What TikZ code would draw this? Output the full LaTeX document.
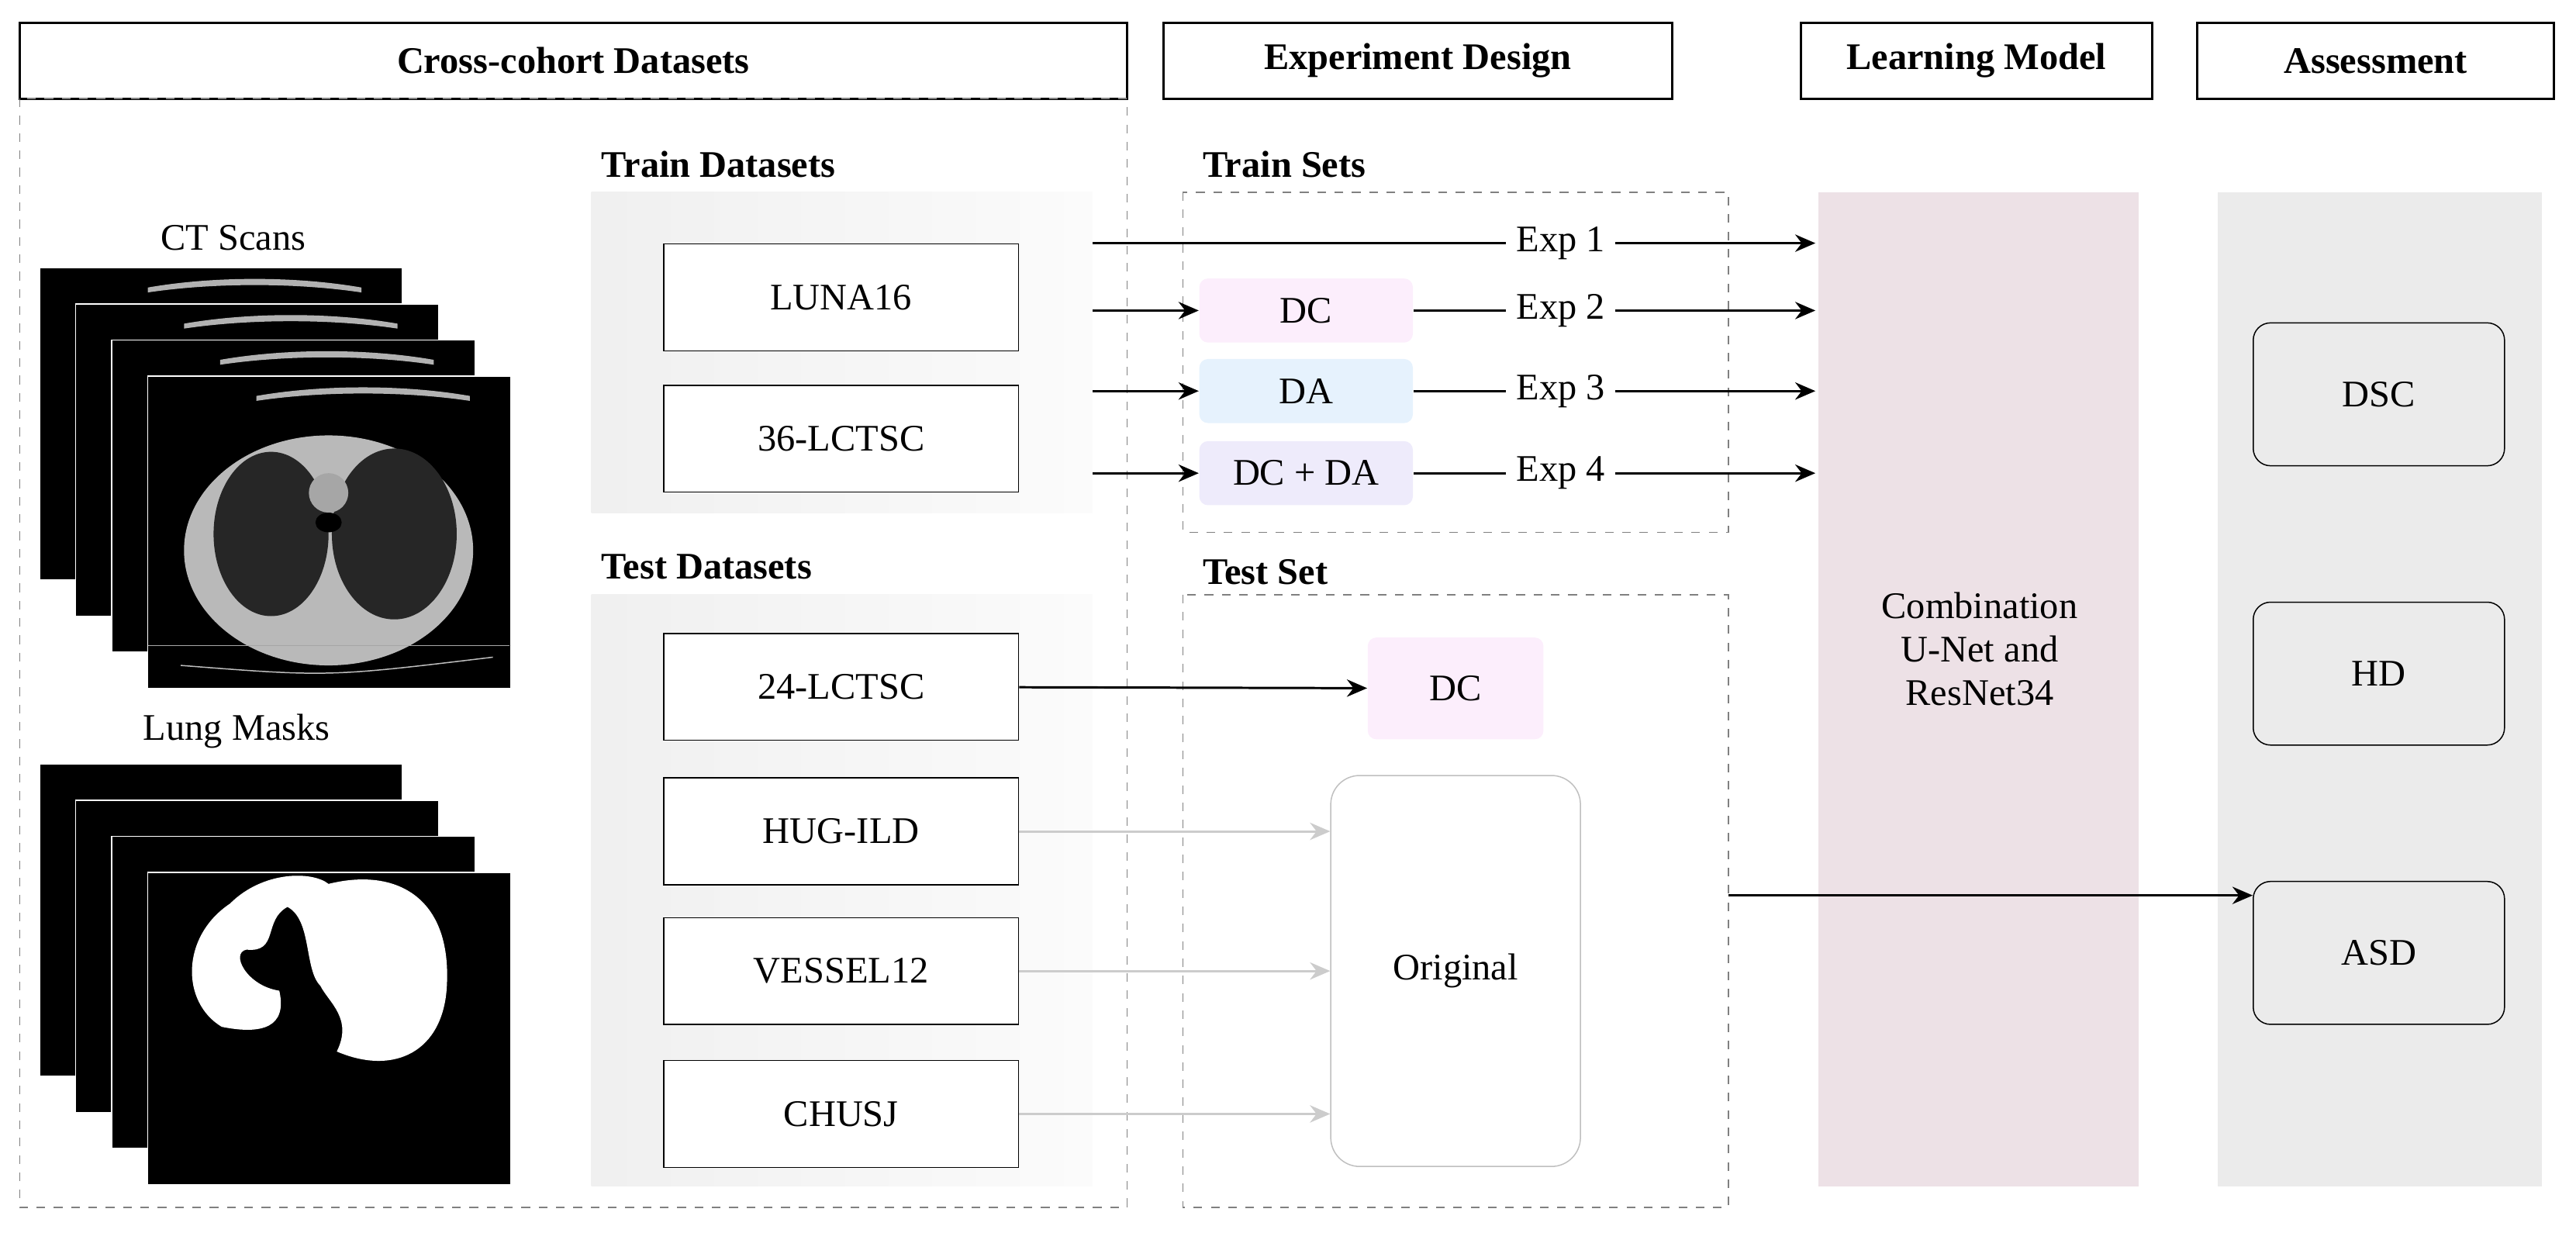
\documentclass[tikz,border=0pt]{standalone}
\usepackage{fontspec}
\setmainfont{Liberation Serif}
\usetikzlibrary{arrows.meta}

\definecolor{pinkbox}{HTML}{FCEEFC}
\definecolor{bluebox}{HTML}{E6F2FD}
\definecolor{lavbox}{HTML}{EEEBFB}
\definecolor{modelcol}{HTML}{EDE1E6}
\definecolor{assesscol}{HTML}{EBEBEB}

\tikzset{
  every node/.style={font=\fontsize{13}{15}\selectfont},
  header/.style={draw, thick, minimum height=0.92cm, font=\fontsize{13}{15}\selectfont\bfseries},
  title/.style={anchor=west, font=\fontsize{13}{15}\selectfont\bfseries},
  dsbox/.style={draw, minimum width=4.32cm, minimum height=1.3cm},
  setbox/.style={rounded corners=3pt, minimum width=2.6cm, minimum height=0.78cm},
  metric/.style={draw, rounded corners=6pt, minimum width=3.06cm, minimum height=1.74cm},
  dashbox/.style={draw=gray, dashed},
  arr/.style={-{Stealth[length=7pt,width=6pt]}, thick},
  garr/.style={-{Stealth[length=7pt,width=6pt]}, thick, gray!40},
  slice/.style={fill=black, draw=white, line width=0.4pt},
}

\begin{document}
\begin{tikzpicture}[x=0.02cm, y=-0.02cm]
\useasboundingbox (0,0) rectangle (1568,750.4);

% headers
\node[header, minimum width=13.48cm] (h1) at (349,37) {Cross-cohort Datasets};
\node[header, minimum width=6.2cm] (h2) at (863,37) {Experiment Design};
\node[header, minimum width=4.28cm] (h3) at (1203,37) {Learning Model};
\node[header, minimum width=4.34cm] (h4) at (1446,37) {Assessment};

% dashed frames
\draw[dashbox] (12,60) rectangle (686,735);
\draw[dashbox] (720,117) rectangle (1052,324);
\draw[dashbox] (720,362) rectangle (1052,735);

% columns
\fill[modelcol] (1107,117) rectangle (1302,722);
\fill[assesscol] (1350,117) rectangle (1547,722);
\node[align=center] (model) at (1205,395) {Combination\\U-Net and\\ResNet34};

% CT scans
\node (ctl) at (142,145) {CT Scans};
\foreach \i in {0,1,2,3}{
  \fill[slice] (24+22*\i,163+22*\i) rectangle (245+22*\i,353+22*\i);
  \fill[gray!60] (90+22*\i,175+22*\i) .. controls (130+22*\i,168+22*\i) and (180+22*\i,168+22*\i) .. (220+22*\i,175+22*\i)
     -- (220+22*\i,178+22*\i) .. controls (180+22*\i,172+22*\i) and (130+22*\i,172+22*\i) .. (90+22*\i,178+22*\i) -- cycle;
}
% front slice body
\fill[gray!55] (200,335) ellipse (88 and 70);
\fill[black!85] (165,325) ellipse (35 and 50);
\fill[black!85] (240,325) ellipse (38 and 52);
\fill[gray!70] (200,300) circle (12);
\fill[black] (200,318) ellipse (8 and 6);
\draw[gray!70, thin] (90,393) -- (310,393);
\draw[gray!50, thin] (110,405) .. controls (200,412) .. (300,400);

% lung masks
\node (lml) at (144,445) {Lung Masks};
\foreach \i in {0,1,2,3}{
  \fill[slice] (24+22*\i,465+22*\i) rectangle (245+22*\i,655+22*\i);
}
\fill[white] (135,625) .. controls (110,610) and (110,570) .. (140,550)
  .. controls (160,530) and (190,530) .. (200,538)
  .. controls (240,528) and (275,545) .. (272,600)
  .. controls (270,640) and (240,655) .. (205,640)
  .. controls (215,620) and (200,610) .. (195,600)
  .. controls (185,590) and (190,560) .. (175,552)
  .. controls (160,560) and (170,580) .. (150,578)
  .. controls (140,580) and (150,600) .. (170,603)
  .. controls (175,625) and (160,630) .. (135,625) -- cycle;

% train datasets
\node[title] (trl) at (360,100) {Train Datasets};
\shade[left color=gray!12, right color=gray!3] (360,117) rectangle (665,312);
\node[dsbox, fill=white] (luna) at (512,181) {LUNA16};
\node[dsbox, fill=white] (lctsc36) at (512,267) {36-LCTSC};

% test datasets
\node[title] (tel) at (360,345) {Test Datasets};
\shade[left color=gray!12, right color=gray!3] (360,362) rectangle (665,722);
\node[dsbox, fill=white] (lctsc24) at (512,418) {24-LCTSC};
\node[dsbox, fill=white] (hug) at (512,506) {HUG-ILD};
\node[dsbox, fill=white] (vessel) at (512,591) {VESSEL12};
\node[dsbox, fill=white] (chusj) at (512,678) {CHUSJ};

% train sets
\node[title] (tsl) at (726,100) {Train Sets};
\node[setbox, fill=pinkbox] (dc) at (795,189) {DC};
\node[setbox, fill=bluebox] (da) at (795,238) {DA};
\node[setbox, fill=lavbox] (dcda) at (795,288) {DC + DA};
\node (e1) at (950,148) {Exp 1};
\node (e2) at (950,189) {Exp 2};
\node (e3) at (950,238) {Exp 3};
\node (e4) at (950,288) {Exp 4};
\coordinate (s1) at (665,148);
\coordinate (s2) at (665,189);
\coordinate (s3) at (665,238);
\coordinate (s4) at (665,288);
\coordinate (m1) at (1105,148);
\coordinate (m2) at (1105,189);
\coordinate (m3) at (1105,238);
\coordinate (m4) at (1105,288);
\draw[thick] (s1) -- (e1.west);
\draw[arr] (s2) -- (dc);
\draw[arr] (s3) -- (da);
\draw[arr] (s4) -- (dcda);
\draw[thick] (dc) -- (e2);
\draw[thick] (da) -- (e3);
\draw[thick] (dcda) -- (e4);
\foreach \k in {1,2,3,4}{ \draw[arr] (e\k) -- (m\k); }

% test set
\node[title] (tstl) at (726,348) {Test Set};
\node[setbox, fill=pinkbox, minimum width=2.14cm, minimum height=1.24cm] (dct) at (886,419) {DC};
\node[draw=gray!50, rounded corners=10pt, minimum width=3.04cm, minimum height=4.76cm] (orig) at (886,591) {Original};
\draw[arr] (lctsc24) -- (dct);
\draw[garr] (hug.east) -- (hug.east -| orig.west);
\draw[garr] (vessel.east) -- (vessel.east -| orig.west);
\draw[garr] (chusj.east) -- (chusj.east -| orig.west);

% assessment
\node[metric, fill=assesscol] (dsc) at (1448,240) {DSC};
\node[metric, fill=assesscol] (hd) at (1448,410) {HD};
\node[metric, fill=assesscol] (asd) at (1448,580) {ASD};
\coordinate (ts) at (1052,545);
\draw[arr] (ts) -- (ts -| asd.west);
\end{tikzpicture}
\end{document}
